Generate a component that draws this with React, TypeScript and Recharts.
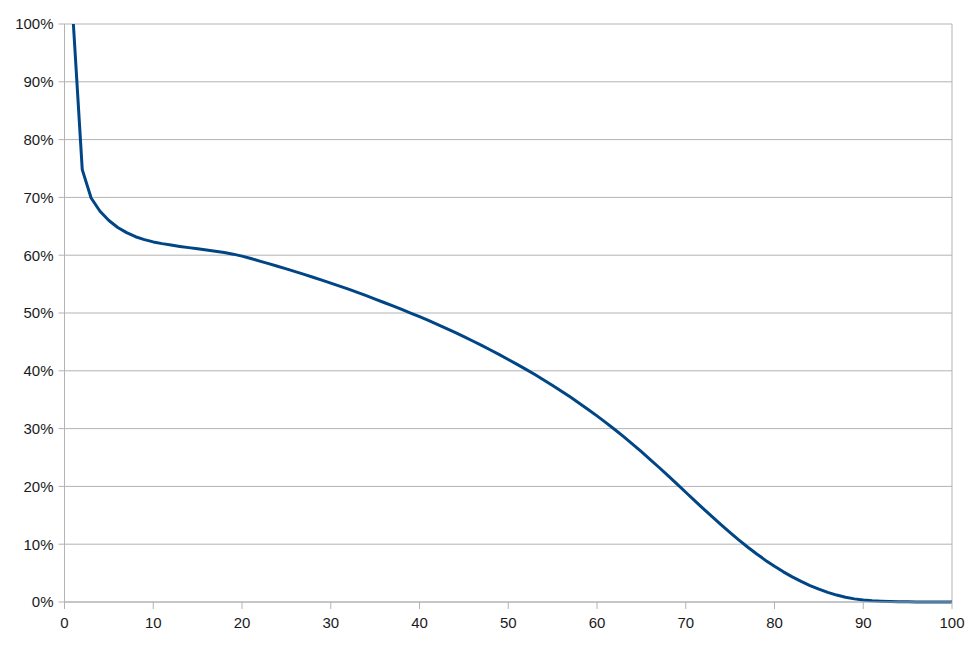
import React from "react";
import { LineChart, Line, XAxis, YAxis, CartesianGrid, ReferenceLine } from "recharts";

const xValues: number[] = Array.from({ length: 100 }, (_, i) => i + 1);

const yValues: number[] = [
  100, 74.8, 69.9, 67.6, 66.0, 64.8, 63.9, 63.2, 62.7, 62.3,
  62.0, 61.75, 61.52, 61.31, 61.11, 60.91, 60.69, 60.46, 60.18, 59.84,
  59.43, 58.98, 58.54, 58.09, 57.63, 57.16, 56.68, 56.19, 55.69, 55.18,
  54.66, 54.12, 53.56, 52.99, 52.41, 51.82, 51.22, 50.61, 49.99, 49.36,
  48.71, 48.04, 47.35, 46.64, 45.91, 45.16, 44.39, 43.6, 42.79, 41.96,
  41.12, 40.25, 39.35, 38.42, 37.46, 36.47, 35.45, 34.4, 33.32, 32.2,
  31.04, 29.84, 28.6, 27.32, 26.0, 24.65, 23.27, 21.86, 20.43, 18.99,
  17.55, 16.12, 14.71, 13.33, 11.99, 10.7, 9.47, 8.3, 7.2, 6.17,
  5.22, 4.35, 3.56, 2.85, 2.22, 1.67, 1.2, 0.82, 0.54, 0.34,
  0.21, 0.13, 0.08, 0.05, 0.03, 0.02, 0.01, 0.005, 0.002, 0,
];

const xTicks: number[] = [0, 10, 20, 30, 40, 50, 60, 70, 80, 90, 100];
const yTicks: number[] = [0, 10, 20, 30, 40, 50, 60, 70, 80, 90, 100];

const data = xValues.map((x, i) => ({ x, y: yValues[i] }));

const tickStyle = { fontFamily: "'Liberation Sans', Arial, sans-serif", fontSize: 15, fill: "#1a1a1a" };

export default function App() {
  return (
    <div style={{ position: "absolute", left: 0, top: 0, width: 975, height: 656, background: "#fff" }}>
      <LineChart width={975} height={656} data={data} margin={{ top: 24, right: 23, bottom: 24, left: 4.5 }}>
        <CartesianGrid vertical={false} stroke="#b3b3b3" strokeWidth={1} />
        <XAxis
          dataKey="x"
          type="number"
          domain={[0, 100]}
          ticks={xTicks}
          interval={0}
          height={30}
          tickSize={7}
          tickMargin={8}
          axisLine={{ stroke: "#b3b3b3" }}
          tickLine={{ stroke: "#b3b3b3" }}
          tick={tickStyle}
        />
        <YAxis
          type="number"
          domain={[0, 100]}
          ticks={yTicks}
          interval={0}
          width={60}
          tickSize={6}
          tickMargin={5}
          tickFormatter={(v: number) => `${v}%`}
          axisLine={{ stroke: "#b3b3b3" }}
          tickLine={{ stroke: "#b3b3b3" }}
          tick={tickStyle}
        />
        <ReferenceLine x={100} stroke="#b3b3b3" strokeWidth={1} />
        <Line
          type="linear"
          dataKey="y"
          stroke="#004586"
          strokeWidth={3}
          dot={false}
          isAnimationActive={false}
          strokeLinejoin="round"
        />
      </LineChart>
    </div>
  );
}
